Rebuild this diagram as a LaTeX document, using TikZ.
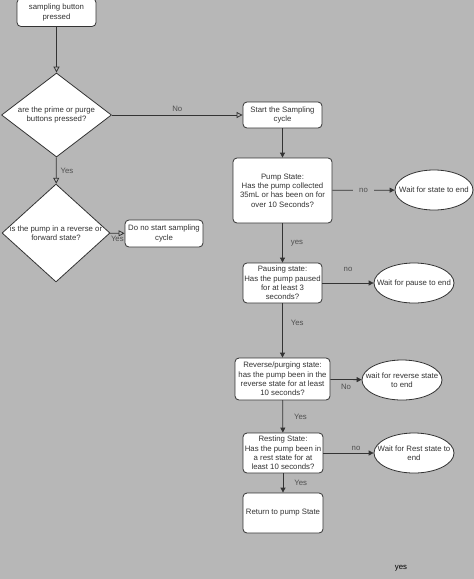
\documentclass[tikz,border=0pt]{standalone}
\usepackage{fontspec}
\setmainfont{Liberation Sans}
\usetikzlibrary{shapes.geometric,arrows.meta}
\definecolor{bggray}{RGB}{183,183,183}
\definecolor{ink}{RGB}{51,51,51}
\definecolor{lbl}{RGB}{80,80,80}
\begin{document}
\begin{tikzpicture}[x=1pt, y=-1pt, font=\fontsize{7.8}{9.4}\selectfont, line join=round,
		>={Triangle[length=5pt,width=5pt]},
		box/.style={draw=ink, fill=white, rounded corners=4pt, align=center, text=ink, line width=.8pt, inner sep=1pt},
		dia/.style={draw=ink, fill=white, diamond, line width=.8pt, inner sep=0pt},
		oval/.style={draw=ink, fill=white, ellipse, line width=.8pt, inner sep=0pt},
		txt/.style={align=center, text=ink},
		flow/.style={draw=ink, line width=.8pt},
		hollow/.style={-{Triangle[open,length=6pt,width=6pt]}},
		tag/.style={text=lbl, inner sep=1pt}]
	\fill[bggray] (0,0) rectangle (474,579);
	\useasboundingbox (0,0) rectangle (474,579);
	\clip (0,0) rectangle (474,579);
	% left column
	\node[box, minimum width=79pt, minimum height=28pt] (btn) at (56.5,12.5) {sampling button\\pressed};
	\node[dia, minimum width=110pt, minimum height=84pt,
		label={[txt]center:are the prime or purge\\buttons pressed?}] (d1) at (56.5,115) {};
	\node[dia, minimum width=108pt, minimum height=98pt,
		label={[txt]center:is the pump in a reverse or\\forward state?}] (d2) at (56,233) {};
	\node[box, minimum width=78pt, minimum height=27pt] (nostart) at (164,233.5) {Do no start sampling\\cycle};
	% state chain
	\node[box, minimum width=79pt, minimum height=26pt] (start) at (282.5,115) {Start the Sampling\\cycle};
	\node[box, minimum width=99pt, minimum height=65pt] (pump) at (282.5,190.5) {Pump State:\\Has the pump collected\\35mL or has been on for\\over 10 Seconds?};
	\node[box, minimum width=79pt, minimum height=40pt] (pause) at (282.5,283) {Pausing state:\\Has the pump paused\\for at least 3\\seconds?};
	\node[box, minimum width=95pt, minimum height=42pt] (rev) at (282.5,379) {Reverse/purging state:\\has the pump been in the\\reverse state for at least\\10 seconds?};
	\node[box, minimum width=80pt, minimum height=40pt] (rest) at (283,453) {Resting State:\\Has the pump been in\\a rest state for at\\least 10 seconds?};
	\node[box, minimum width=80pt, minimum height=40pt] (ret) at (283,513) {Return to pump State};
	% waiting states
	\node[oval, minimum width=78pt, minimum height=40pt,
		label={[txt]center:Wait for state to end}] (wstate) at (434,190) {};
	\node[oval, minimum width=80pt, minimum height=40pt,
		label={[txt]center:Wait for pause to end}] (wpause) at (414,283) {};
	\node[oval, minimum width=80pt, minimum height=40pt,
		label={[txt]center:wait for reverse state\\to end}] (wrev) at (402,380) {};
	\node[oval, minimum width=80pt, minimum height=40pt,
		label={[txt]center:Wait for Rest state to\\end}] (wrest) at (414,453) {};
	% connectors
	\draw[flow, hollow] (btn) -- (d1);
	\draw[flow, hollow] (d1) -- node[tag, midway, above=2pt] {No} (start);
	\draw[flow, hollow] (d1) -- node[tag, midway, right=3pt] {Yes} (d2);
	\draw[flow, hollow] (d2) -- node[tag, midway, below=1pt] {Yes} (nostart);
	\draw[flow, ->] (start) -- (pump);
	\draw[flow, ->] (pump) -- node[tag, midway, fill=bggray, inner xsep=6pt] {no} (wstate);
	\draw[flow, ->] (pump) -- node[tag, midway, right=7pt] {yes} (pause);
	\draw[flow, ->] (pause) -- node[tag, midway, above=10pt] {no} (wpause);
	\draw[flow, ->] (pause) -- node[tag, pos=.35, right=7pt] {Yes} (rev);
	\draw[flow, ->] (rev) -- node[tag, midway, below=3pt] {No} (wrev);
	\draw[flow, ->] (rev) -- node[tag, midway, right=10pt] {Yes} (rest);
	\draw[flow, ->] (rest) -- node[tag, pos=.65, above=1pt] {no} (wrest);
	\draw[flow, ->] (rest) -- node[tag, midway, right=10pt] {Yes} (ret);
	\node[text=black] (stray) at (401,568) {yes};
\end{tikzpicture}
\end{document}
